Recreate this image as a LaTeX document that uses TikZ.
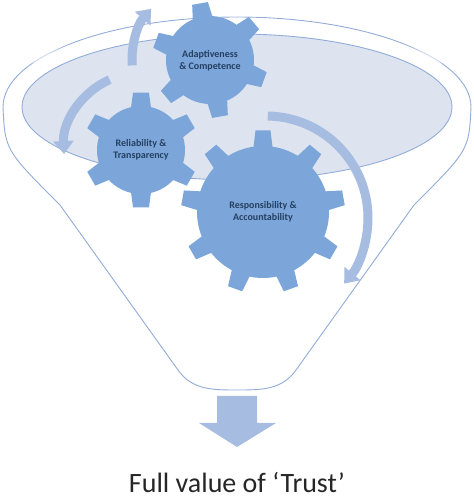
\documentclass[tikz,border=0pt]{standalone}
\usepackage{fontspec}
\setmainfont{Carlito}
\usetikzlibrary{arrows.meta, positioning}

\definecolor{gearblue}{RGB}{124,166,218}
\definecolor{rimblue}{RGB}{146,172,216}
\definecolor{poolgray}{RGB}{221,228,240}
\definecolor{turnblue}{RGB}{166,188,224}
\definecolor{lblnavy}{RGB}{36,63,96}

% gear: centre, teeth, body r, tip r, offset angle, half base width, half tip width
\newcommand{\drawgear}[7]{%
  \pgfmathsetmacro\gstep{360/#2}%
  \pgfmathsetmacro\gdb{deg(#6/#3)}%
  \pgfmathsetmacro\gdt{deg(#7/#4)}%
  \pgfmathtruncatemacro\glast{#2-1}%
  \fill[gearfill, shift={(#1)}] ({#5-\gdb}:#3)
    \foreach \k in {0,...,\glast}{
      -- ({#5+\k*\gstep-\gdb}:#3) -- ({#5+\k*\gstep-\gdt}:#4)
      -- ({#5+\k*\gstep+\gdt}:#4) -- ({#5+\k*\gstep+\gdb}:#3)
      arc[start angle={#5+\k*\gstep+\gdb}, end angle={#5+(\k+1)*\gstep-\gdb}, radius=#3]
    } -- cycle;}

\begin{document}
\begin{tikzpicture}[
  x=1pt, y=1pt,
  gearfill/.style={fill=gearblue},
  gearlbl/.style={align=center, text=lblnavy, inner sep=1pt,
                  font=\bfseries\fontsize{10}{12}\selectfont},
  rim/.style={draw=rimblue, line width=0.9pt},
  cycarr/.style={turnblue, line width=9pt,
                 -{Triangle[width=20pt, length=13pt]}},
]
\useasboundingbox (0,0) rectangle (474,499);

% ── Funnel ───────────────────────────────────────────────────────────
\coordinate (rimc) at (237,392);
\filldraw[rim, fill=white] (3,392)
  arc[start angle=180, end angle=0, x radius=234, y radius=90]
  .. controls (469,349) .. (414,294) -- (296,129)
  to[out=-125, in=0] (237,109) to[out=180, in=-55] (178,129)
  -- (60,294) .. controls (5,349) .. (3,392) -- cycle;

% liquid surface
\filldraw[rim, fill=poolgray] (rimc) ellipse[x radius=215, y radius=73];
\draw[white, opacity=0.55, line width=4pt]
  ([shift={(rimc)}]170:210) arc[start angle=170, end angle=10, x radius=210, y radius=68];

% ── Gears ────────────────────────────────────────────────────────────
\coordinate (adaptc) at (210,439);
\coordinate (reliac) at (141,349);
\coordinate (respoc) at (263,287);

\drawgear{adaptc}{6}{44}{58}{100}{10}{8}
\drawgear{reliac}{6}{44}{58}{90}{10}{8}
\drawgear{respoc}{9}{66}{82}{90}{9.5}{7.5}

\node[gearlbl] (adapt) at ([yshift=-1]adaptc) {Adaptiveness\\\& Competence};
\node[gearlbl] (relia) at (reliac) {Reliability \&\\Transparency};
\node[gearlbl] (respo) at (respoc) {Responsibility \&\\Accountability};

% ── Rotation arrows ──────────────────────────────────────────────────
\draw[cycarr] ([shift={(adaptc)}]184:78) arc[start angle=184, end angle=139, radius=78];
\draw[cycarr] ([shift={(reliac)}]114:77) arc[start angle=114, end angle=183, radius=77];
\draw[cycarr] ([shift={(266,281)}]89:102) arc[start angle=89, end angle=-40, radius=102];

% ── Output ───────────────────────────────────────────────────────────
\fill[turnblue] (217,103) -- (257,103) -- (257,76) -- (276,76)
  -- (237,52) -- (199,76) -- (217,76) -- cycle;
\node[font=\fontsize{28}{32}\selectfont, text=black!85, anchor=base, inner sep=0pt]
  (trust) at (237,6) {Full value of ‘Trust’};

\end{tikzpicture}
\end{document}
